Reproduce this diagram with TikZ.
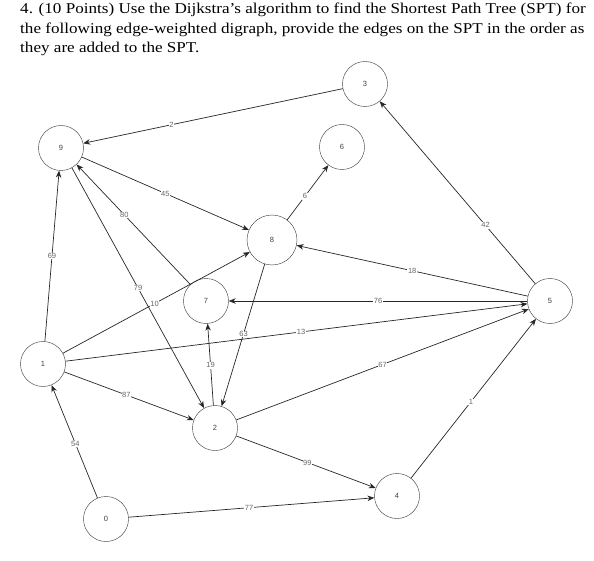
\documentclass[tikz,border=0pt]{standalone}
\usepackage{fontspec}
\setmainfont{Liberation Serif}[FakeStretch=1.14]
\newfontfamily\graphfont{Liberation Sans}
\usetikzlibrary{arrows.meta}

\begin{document}
\begin{tikzpicture}[
    x=1pt, y=-1pt,
    vert/.style={
        draw=black!80, circle,
        minimum size=45pt,
        inner sep=0pt,
        font=\graphfont\fontsize{7.5}{8}\selectfont,
        text=black!75
    },
    bigvert/.style={vert, minimum size=50pt},
    arrow/.style={-{Stealth[length=7pt,width=5.5pt]}, draw=black!85, line width=0.7pt},
    wt/.style={
        fill=white, inner sep=0.6pt,
        font=\graphfont\fontsize{7.5}{8}\selectfont,
        text=black!60
    }
]
\useasboundingbox (0,0) rectangle (594,561);

% ===================== QUESTION TEXT =====================
\node[anchor=north west, align=left, inner sep=0pt,
      font=\fontsize{15}{19.5}\selectfont] (question) at (20,3)
{4. (10 Points) Use the Dijkstra's algorithm to find the Shortest Path Tree (SPT) for\\
the following edge-weighted digraph, provide the edges on the SPT in the order as\\
they are added to the SPT.};

% ===================== VERTICES =====================
\node[vert] (v0) at (106,519) {0};
\node[vert] (v1) at (43,364) {1};
\node[vert] (v2) at (215,428) {2};
\node[vert] (v3) at (365,84) {3};
\node[vert] (v4) at (397,496) {4};
\node[vert] (v5) at (550,301) {5};
\node[vert] (v6) at (342,147) {6};
\node[vert] (v7) at (206,301) {7};
\node[bigvert] (v8) at (272,240) {8};
\node[vert] (v9) at (61,148) {9};

% ===================== WEIGHTED EDGES =====================
\draw[arrow] (v3) -- node[wt, pos=0.66]{2} (v9);
\draw[arrow] (v9) -- node[wt]{45} (v8);
\draw[arrow] (v7) -- node[wt, pos=0.58]{80} (v9);
\draw[arrow] (v1) -- node[wt]{69} (v9);
\draw[arrow] (v9) -- node[wt, pos=0.5]{79} (v2);
\draw[arrow] (v1) -- node[wt, pos=0.49]{10} (v8);
\draw[arrow] (v8) -- node[wt, pos=0.43]{6} (v6);
\draw[arrow] (v5) -- node[wt, pos=0.32]{42} (v3);
\draw[arrow] (v5) -- node[wt]{18} (v8);
\draw[arrow] (v5) -- node[wt]{76} (v7);
\draw[arrow] (v8) -- node[wt, pos=0.49]{63} (v2);
\draw[arrow] (v1) -- node[wt, pos=0.51]{13} (v5);
\draw[arrow] (v2) -- node[wt, pos=0.49]{19} (v7);
\draw[arrow] (v2) -- node[wt]{67} (v5);
\draw[arrow] (v1) -- node[wt, pos=0.48]{87} (v2);
\draw[arrow] (v2) -- node[wt, pos=0.51]{99} (v4);
\draw[arrow] (v0) -- node[wt, pos=0.49]{77} (v4);
\draw[arrow] (v0) -- node[wt, pos=0.48]{54} (v1);
\draw[arrow] (v4) -- node[wt, pos=0.48]{1} (v5);

\end{tikzpicture}
\end{document}
